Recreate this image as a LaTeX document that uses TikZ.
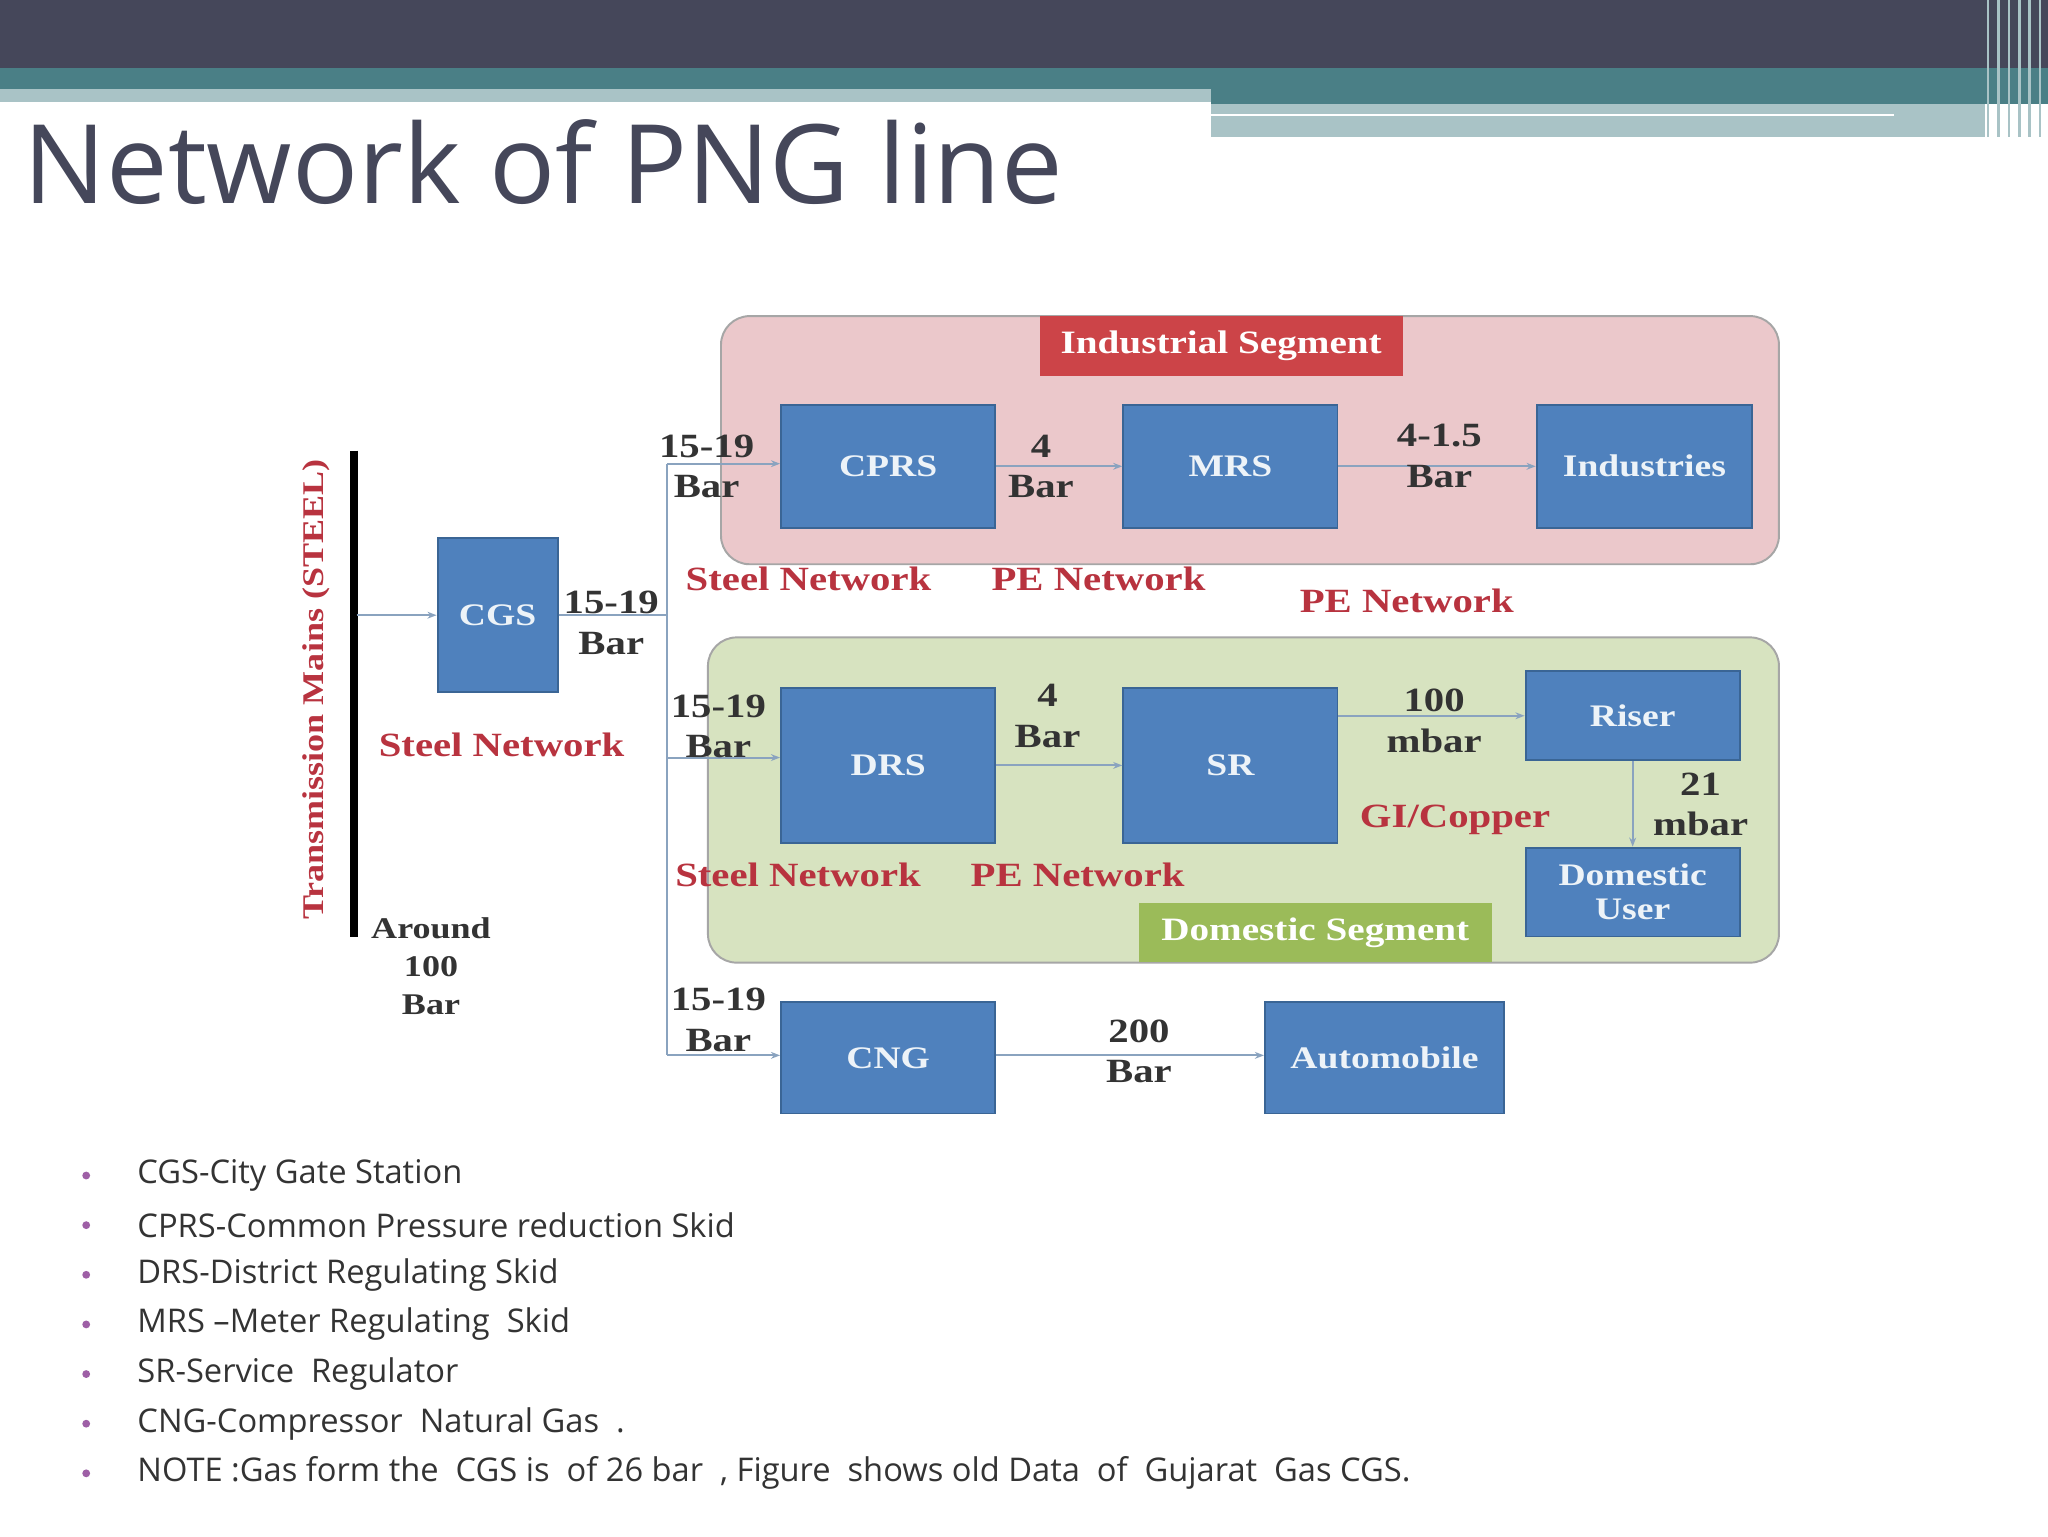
\documentclass[tikz,border=0pt]{standalone}
\usepackage{fontspec}
\setmainfont{Liberation Serif}
\newfontfamily\diag[FakeStretch=1.2]{Liberation Serif}
\newfontfamily\sansf{Open Sans}
\usetikzlibrary{arrows.meta}
\definecolor{topbar}{HTML}{45475A}
\definecolor{teal}{HTML}{4A7F86}
\definecolor{lteal}{HTML}{A9C3C6}
\definecolor{boxblue}{HTML}{4F81BD}
\definecolor{boxedge}{HTML}{3A6595}
\definecolor{pinkbg}{HTML}{EBC8CB}
\definecolor{greenbg}{HTML}{D7E3C0}
\definecolor{redlab}{HTML}{B8333F}
\definecolor{indred}{HTML}{CC4448}
\definecolor{domgreen}{HTML}{9BBB59}
\definecolor{conn}{HTML}{8AA3BF}
\definecolor{txt}{HTML}{333333}
\definecolor{bul}{HTML}{9E5FA6}
\tikzset{
 blk/.style={draw=boxedge,line width=1.5pt,fill=boxblue,text=white!90!boxblue,font=\diag\bfseries\fontsize{24}{28}\selectfont,align=center,inner sep=0pt},
 val/.style={text=txt,font=\diag\bfseries\fontsize{26}{31}\selectfont,align=center,inner sep=0pt},
 net/.style={text=redlab,font=\diag\bfseries\fontsize{26}{30}\selectfont,inner sep=0pt},
 cn/.style={draw=conn,line width=1.5pt,-{Stealth[length=7pt]}},
 cl/.style={draw=conn,line width=1.5pt},
 bt/.style={anchor=west,text=txt,font=\sansf\fontsize{25}{30}\selectfont,inner sep=0pt},
}
\begin{document}
\begin{tikzpicture}[x=1pt,y=-1pt]
\useasboundingbox (0,0) rectangle (1568,1176);
\fill[white] (0,0) rectangle (1568,1176);
% header
\fill[topbar] (0,0) rectangle (1568,52);
\fill[teal] (0,52) rectangle (1568,68);
\fill[lteal] (0,68) rectangle (927,78);
\fill[teal] (927,68) rectangle (1568,80);
\fill[lteal] (927,80) rectangle (1520,105);
\draw[white,line width=2pt] (927,88) -- (1450,88);
\foreach \x in {1522,1530,1538,1546,1554,1562}{\draw[lteal,line width=2pt] (\x,0) -- (\x,105);}
\node[anchor=base west,text=topbar,font=\sansf\fontsize{84}{88}\selectfont,inner sep=0pt] (title) at (18,156) {Network of PNG line};
% segments
\draw[gray!70,line width=1.5pt,fill=pinkbg,rounded corners=22pt] (552,242) rectangle (1362,432);
\draw[gray!70,line width=1.5pt,fill=greenbg,rounded corners=22pt] (542,488) rectangle (1362,737);
\node[fill=indred,minimum width=278pt,minimum height=46pt,text=white,font=\diag\bfseries\fontsize{25}{30}\selectfont,inner sep=0pt] (ind) at (935,265) {Industrial Segment};
\node[fill=domgreen,minimum width=270pt,minimum height=45pt,text=white,font=\diag\bfseries\fontsize{25}{30}\selectfont,inner sep=0pt] (dom) at (1007,714) {Domestic Segment};
% boxes
\node[blk,minimum width=164pt,minimum height=94pt] (cprs) at (680,357) {CPRS};
\node[blk,minimum width=164pt,minimum height=94pt] (mrs) at (942,357) {MRS};
\node[blk,minimum width=165pt,minimum height=94pt] (indu) at (1259,357) {Industries};
\node[blk,minimum width=92pt,minimum height=118pt] (cgs) at (381,471) {CGS};
\node[blk,minimum width=164pt,minimum height=119pt] (drs) at (680,586) {DRS};
\node[blk,minimum width=164pt,minimum height=119pt] (sr) at (942,586) {SR};
\node[blk,minimum width=164pt,minimum height=68pt] (riser) at (1250,548) {Riser};
\node[blk,minimum width=164pt,minimum height=68pt] (du) at (1250,683) {Domestic\\[-2pt]User};
\node[blk,minimum width=164pt,minimum height=85pt] (cng) at (680,810) {CNG};
\node[blk,minimum width=183pt,minimum height=85pt] (auto) at (1060,810) {Automobile};
% transmission main
\coordinate (tmt) at (271,345); \coordinate (tmb) at (271,717);
\draw[black,line width=6pt] (tmt) -- (tmb);
\node[rotate=90,text=redlab,font=\diag\bfseries\fontsize{23}{28}\selectfont,inner sep=0pt] (tm) at (242,528) {Transmission Mains (STEEL)};
\coordinate (tmo) at (273,471);
\draw[cn] (tmo) -- (cgs.west);
% branch
\coordinate (b0) at (511,471); \coordinate (bt) at (511,355); \coordinate (bd) at (511,580); \coordinate (bb) at (511,808);
\draw[cl] (cgs.east) -- (b0);
\draw[cl] (bt) -- (bb);
\draw[cn] (bt) -- (cprs.west|-bt);
\draw[cn] (bd) -- (drs.west|-bd);
\draw[cn] (bb) -- (cng.west|-bb);
\draw[cn] (cprs.east) -- (mrs.west);
\draw[cn] (mrs.east) -- (indu.west);
\draw[cn] (drs.east) -- (sr.west);
\draw[cn] (sr.east|-riser) -- (riser.west);
\draw[cn] (riser.south) -- (du.north);
\draw[cn] (cng.east|-bb) -- (auto.west|-bb);
% values
\node[val] (v1) at (541,357) {15-19\\Bar};
\node[val] (v2) at (797,357) {4\\Bar};
\node[val] (v3) at (1102,349) {4-1.5\\Bar};
\node[val] (v4) at (468,477) {15-19\\Bar};
\node[val] (v5) at (550,556) {15-19\\Bar};
\node[val] (v6) at (802,548) {4\\Bar};
\node[val] (v7) at (1098,552) {100\\mbar};
\node[val] (v8) at (1302,616) {21\\mbar};
\node[val,font=\diag\bfseries\fontsize{23}{29}\selectfont] (v9) at (330,740) {Around\\100\\Bar};
\node[val] (v10) at (550,781) {15-19\\Bar};
\node[val] (v11) at (872,805) {200\\Bar};
% networks
\node[net] (n1) at (619,443) {Steel Network};
\node[net] (n2) at (841,443) {PE Network};
\node[net] (n3) at (1077,460) {PE Network};
\node[net] (n4) at (384,570) {Steel Network};
\node[net] (n5) at (1114,628) {GI/Copper};
\node[net] (n6) at (611,670) {Steel Network};
\node[net] (n7) at (825,670) {PE Network};
% bullets
\foreach \y/\t in {900/{CGS-City Gate Station},938/{CPRS-Common Pressure reduction Skid},976/{DRS-District Regulating Skid},1014/{MRS \textendash Meter Regulating\ \ Skid},1052/{SR-Service\ \ Regulator},1090/{CNG-Compressor\ \ Natural Gas\ \ .},1128/{NOTE :Gas form the\ \ CGS is\ \ of 26 bar\ \ , Figure\ \ shows old Data\ \ of\ \ Gujarat\ \ Gas CGS.}}{
 \fill[bul] (66,\y) circle (3pt);
 \node[bt] at (105,\y) {\t};
}
\end{tikzpicture}
\end{document}
